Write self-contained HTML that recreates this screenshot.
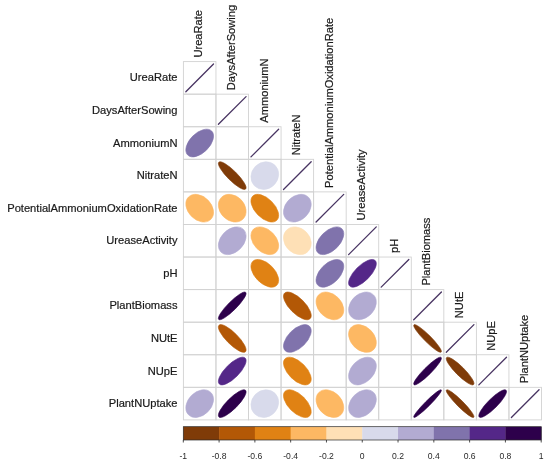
<!DOCTYPE html><html><head><meta charset="utf-8"><title>Correlation plot</title><style>html,body{margin:0;padding:0;background:#fff}svg{display:block}</style></head><body><svg width="550" height="467" viewBox="0 0 550 467" font-family="Liberation Sans, Arial, sans-serif">
<rect width="550" height="467" fill="#fff"/>
<g fill="none" stroke="#d2d2d2" stroke-width="0.9"><rect x="183.40" y="61.60" width="32.55" height="32.57"/><rect x="183.40" y="94.17" width="32.55" height="32.57"/><rect x="215.95" y="94.17" width="32.55" height="32.57"/><rect x="183.40" y="126.75" width="32.55" height="32.57"/><rect x="215.95" y="126.75" width="32.55" height="32.57"/><rect x="248.51" y="126.75" width="32.55" height="32.57"/><rect x="183.40" y="159.32" width="32.55" height="32.57"/><rect x="215.95" y="159.32" width="32.55" height="32.57"/><rect x="248.51" y="159.32" width="32.55" height="32.57"/><rect x="281.06" y="159.32" width="32.55" height="32.57"/><rect x="183.40" y="191.89" width="32.55" height="32.57"/><rect x="215.95" y="191.89" width="32.55" height="32.57"/><rect x="248.51" y="191.89" width="32.55" height="32.57"/><rect x="281.06" y="191.89" width="32.55" height="32.57"/><rect x="313.62" y="191.89" width="32.55" height="32.57"/><rect x="183.40" y="224.46" width="32.55" height="32.57"/><rect x="215.95" y="224.46" width="32.55" height="32.57"/><rect x="248.51" y="224.46" width="32.55" height="32.57"/><rect x="281.06" y="224.46" width="32.55" height="32.57"/><rect x="313.62" y="224.46" width="32.55" height="32.57"/><rect x="346.17" y="224.46" width="32.55" height="32.57"/><rect x="183.40" y="257.04" width="32.55" height="32.57"/><rect x="215.95" y="257.04" width="32.55" height="32.57"/><rect x="248.51" y="257.04" width="32.55" height="32.57"/><rect x="281.06" y="257.04" width="32.55" height="32.57"/><rect x="313.62" y="257.04" width="32.55" height="32.57"/><rect x="346.17" y="257.04" width="32.55" height="32.57"/><rect x="378.73" y="257.04" width="32.55" height="32.57"/><rect x="183.40" y="289.61" width="32.55" height="32.57"/><rect x="215.95" y="289.61" width="32.55" height="32.57"/><rect x="248.51" y="289.61" width="32.55" height="32.57"/><rect x="281.06" y="289.61" width="32.55" height="32.57"/><rect x="313.62" y="289.61" width="32.55" height="32.57"/><rect x="346.17" y="289.61" width="32.55" height="32.57"/><rect x="378.73" y="289.61" width="32.55" height="32.57"/><rect x="411.28" y="289.61" width="32.55" height="32.57"/><rect x="183.40" y="322.18" width="32.55" height="32.57"/><rect x="215.95" y="322.18" width="32.55" height="32.57"/><rect x="248.51" y="322.18" width="32.55" height="32.57"/><rect x="281.06" y="322.18" width="32.55" height="32.57"/><rect x="313.62" y="322.18" width="32.55" height="32.57"/><rect x="346.17" y="322.18" width="32.55" height="32.57"/><rect x="378.73" y="322.18" width="32.55" height="32.57"/><rect x="411.28" y="322.18" width="32.55" height="32.57"/><rect x="443.84" y="322.18" width="32.55" height="32.57"/><rect x="183.40" y="354.75" width="32.55" height="32.57"/><rect x="215.95" y="354.75" width="32.55" height="32.57"/><rect x="248.51" y="354.75" width="32.55" height="32.57"/><rect x="281.06" y="354.75" width="32.55" height="32.57"/><rect x="313.62" y="354.75" width="32.55" height="32.57"/><rect x="346.17" y="354.75" width="32.55" height="32.57"/><rect x="378.73" y="354.75" width="32.55" height="32.57"/><rect x="411.28" y="354.75" width="32.55" height="32.57"/><rect x="443.84" y="354.75" width="32.55" height="32.57"/><rect x="476.39" y="354.75" width="32.55" height="32.57"/><rect x="183.40" y="387.33" width="32.55" height="32.57"/><rect x="215.95" y="387.33" width="32.55" height="32.57"/><rect x="248.51" y="387.33" width="32.55" height="32.57"/><rect x="281.06" y="387.33" width="32.55" height="32.57"/><rect x="313.62" y="387.33" width="32.55" height="32.57"/><rect x="346.17" y="387.33" width="32.55" height="32.57"/><rect x="378.73" y="387.33" width="32.55" height="32.57"/><rect x="411.28" y="387.33" width="32.55" height="32.57"/><rect x="443.84" y="387.33" width="32.55" height="32.57"/><rect x="476.39" y="387.33" width="32.55" height="32.57"/><rect x="508.95" y="387.33" width="32.55" height="32.57"/></g>
<ellipse cx="199.68" cy="143.03" rx="16.95" ry="9.78" fill="#8073ac" stroke="#8073ac" stroke-width="0.6" transform="rotate(-45 199.68 143.03)"/>
<ellipse cx="232.23" cy="175.60" rx="4.79" ry="18.97" fill="#7f3b08" stroke="#7f3b08" stroke-width="0.6" transform="rotate(-45 232.23 175.60)"/>
<ellipse cx="264.79" cy="175.60" rx="14.51" ry="13.13" fill="#d8daeb" stroke="#d8daeb" stroke-width="0.6" transform="rotate(-45 264.79 175.60)"/>
<ellipse cx="199.68" cy="208.18" rx="11.58" ry="15.78" fill="#fdb863" stroke="#fdb863" stroke-width="0.6" transform="rotate(-45 199.68 208.18)"/>
<ellipse cx="232.23" cy="208.18" rx="12.22" ry="15.28" fill="#fdb863" stroke="#fdb863" stroke-width="0.6" transform="rotate(-45 232.23 208.18)"/>
<ellipse cx="264.79" cy="208.18" rx="9.59" ry="17.06" fill="#e08214" stroke="#e08214" stroke-width="0.6" transform="rotate(-45 264.79 208.18)"/>
<ellipse cx="297.34" cy="208.18" rx="15.59" ry="11.82" fill="#b2abd2" stroke="#b2abd2" stroke-width="0.6" transform="rotate(-45 297.34 208.18)"/>
<ellipse cx="232.23" cy="240.75" rx="15.96" ry="11.32" fill="#b2abd2" stroke="#b2abd2" stroke-width="0.6" transform="rotate(-45 232.23 240.75)"/>
<ellipse cx="264.79" cy="240.75" rx="11.07" ry="16.14" fill="#fdb863" stroke="#fdb863" stroke-width="0.6" transform="rotate(-45 264.79 240.75)"/>
<ellipse cx="297.34" cy="240.75" rx="12.45" ry="15.09" fill="#fee0b6" stroke="#fee0b6" stroke-width="0.6" transform="rotate(-45 297.34 240.75)"/>
<ellipse cx="329.90" cy="240.75" rx="16.95" ry="9.78" fill="#8073ac" stroke="#8073ac" stroke-width="0.6" transform="rotate(-45 329.90 240.75)"/>
<ellipse cx="264.79" cy="273.32" rx="9.78" ry="16.95" fill="#e08214" stroke="#e08214" stroke-width="0.6" transform="rotate(-45 264.79 273.32)"/>
<ellipse cx="329.90" cy="273.32" rx="16.95" ry="9.78" fill="#8073ac" stroke="#8073ac" stroke-width="0.6" transform="rotate(-45 329.90 273.32)"/>
<ellipse cx="362.45" cy="273.32" rx="18.04" ry="7.58" fill="#542788" stroke="#542788" stroke-width="0.6" transform="rotate(-45 362.45 273.32)"/>
<ellipse cx="232.23" cy="305.90" rx="19.10" ry="4.26" fill="#2d004b" stroke="#2d004b" stroke-width="0.6" transform="rotate(-45 232.23 305.90)"/>
<ellipse cx="297.34" cy="305.90" rx="7.58" ry="18.04" fill="#b35806" stroke="#b35806" stroke-width="0.6" transform="rotate(-45 297.34 305.90)"/>
<ellipse cx="329.90" cy="305.90" rx="11.58" ry="15.78" fill="#fdb863" stroke="#fdb863" stroke-width="0.6" transform="rotate(-45 329.90 305.90)"/>
<ellipse cx="362.45" cy="305.90" rx="15.59" ry="11.82" fill="#b2abd2" stroke="#b2abd2" stroke-width="0.6" transform="rotate(-45 362.45 305.90)"/>
<ellipse cx="232.23" cy="338.47" rx="5.70" ry="18.72" fill="#b35806" stroke="#b35806" stroke-width="0.6" transform="rotate(-45 232.23 338.47)"/>
<ellipse cx="297.34" cy="338.47" rx="17.23" ry="9.28" fill="#8073ac" stroke="#8073ac" stroke-width="0.6" transform="rotate(-45 297.34 338.47)"/>
<ellipse cx="362.45" cy="338.47" rx="11.58" ry="15.78" fill="#fdb863" stroke="#fdb863" stroke-width="0.6" transform="rotate(-45 362.45 338.47)"/>
<ellipse cx="427.56" cy="338.47" rx="3.39" ry="19.27" fill="#7f3b08" stroke="#7f3b08" stroke-width="0.6" transform="rotate(-45 427.56 338.47)"/>
<ellipse cx="232.23" cy="371.04" rx="18.30" ry="6.92" fill="#542788" stroke="#542788" stroke-width="0.6" transform="rotate(-45 232.23 371.04)"/>
<ellipse cx="297.34" cy="371.04" rx="8.97" ry="17.39" fill="#e08214" stroke="#e08214" stroke-width="0.6" transform="rotate(-45 297.34 371.04)"/>
<ellipse cx="362.45" cy="371.04" rx="16.14" ry="11.07" fill="#b2abd2" stroke="#b2abd2" stroke-width="0.6" transform="rotate(-45 362.45 371.04)"/>
<ellipse cx="427.56" cy="371.04" rx="19.22" ry="3.66" fill="#2d004b" stroke="#2d004b" stroke-width="0.6" transform="rotate(-45 427.56 371.04)"/>
<ellipse cx="460.11" cy="371.04" rx="4.38" ry="19.07" fill="#7f3b08" stroke="#7f3b08" stroke-width="0.6" transform="rotate(-45 460.11 371.04)"/>
<ellipse cx="199.68" cy="403.61" rx="15.78" ry="11.58" fill="#b2abd2" stroke="#b2abd2" stroke-width="0.6" transform="rotate(-45 199.68 403.61)"/>
<ellipse cx="232.23" cy="403.61" rx="18.82" ry="5.36" fill="#2d004b" stroke="#2d004b" stroke-width="0.6" transform="rotate(-45 232.23 403.61)"/>
<ellipse cx="264.79" cy="403.61" rx="14.51" ry="13.13" fill="#d8daeb" stroke="#d8daeb" stroke-width="0.6" transform="rotate(-45 264.79 403.61)"/>
<ellipse cx="297.34" cy="403.61" rx="8.97" ry="17.39" fill="#e08214" stroke="#e08214" stroke-width="0.6" transform="rotate(-45 297.34 403.61)"/>
<ellipse cx="329.90" cy="403.61" rx="11.74" ry="15.65" fill="#fdb863" stroke="#fdb863" stroke-width="0.6" transform="rotate(-45 329.90 403.61)"/>
<ellipse cx="362.45" cy="403.61" rx="15.78" ry="11.58" fill="#b2abd2" stroke="#b2abd2" stroke-width="0.6" transform="rotate(-45 362.45 403.61)"/>
<ellipse cx="427.56" cy="403.61" rx="19.39" ry="2.59" fill="#2d004b" stroke="#2d004b" stroke-width="0.6" transform="rotate(-45 427.56 403.61)"/>
<ellipse cx="460.11" cy="403.61" rx="3.24" ry="19.30" fill="#7f3b08" stroke="#7f3b08" stroke-width="0.6" transform="rotate(-45 460.11 403.61)"/>
<ellipse cx="492.67" cy="403.61" rx="18.97" ry="4.79" fill="#2d004b" stroke="#2d004b" stroke-width="0.6" transform="rotate(-45 492.67 403.61)"/>
<g stroke="#483462" stroke-width="1.3" stroke-linecap="round"><line x1="185.84" y1="91.72" x2="213.51" y2="64.05"/><line x1="218.40" y1="124.29" x2="246.07" y2="96.62"/><line x1="250.95" y1="156.87" x2="278.62" y2="129.20"/><line x1="283.51" y1="189.44" x2="311.18" y2="161.77"/><line x1="316.06" y1="222.01" x2="343.73" y2="194.34"/><line x1="348.61" y1="254.59" x2="376.29" y2="226.91"/><line x1="381.17" y1="287.16" x2="408.84" y2="259.49"/><line x1="413.72" y1="319.73" x2="441.39" y2="292.06"/><line x1="446.28" y1="352.30" x2="473.95" y2="324.63"/><line x1="478.83" y1="384.88" x2="506.50" y2="357.21"/><line x1="511.39" y1="417.45" x2="539.06" y2="389.78"/></g>
<text x="177.5" y="81.39" font-size="11.15" text-anchor="end" fill="#1a1a1a" stroke="#1a1a1a" stroke-width="0.2">UreaRate</text>
<text x="177.5" y="113.96" font-size="11.15" text-anchor="end" fill="#1a1a1a" stroke="#1a1a1a" stroke-width="0.2">DaysAfterSowing</text>
<text x="177.5" y="146.53" font-size="11.15" text-anchor="end" fill="#1a1a1a" stroke="#1a1a1a" stroke-width="0.2">AmmoniumN</text>
<text x="177.5" y="179.10" font-size="11.15" text-anchor="end" fill="#1a1a1a" stroke="#1a1a1a" stroke-width="0.2">NitrateN</text>
<text x="177.5" y="211.68" font-size="11.15" text-anchor="end" fill="#1a1a1a" stroke="#1a1a1a" stroke-width="0.2">PotentialAmmoniumOxidationRate</text>
<text x="177.5" y="244.25" font-size="11.15" text-anchor="end" fill="#1a1a1a" stroke="#1a1a1a" stroke-width="0.2">UreaseActivity</text>
<text x="177.5" y="276.82" font-size="11.15" text-anchor="end" fill="#1a1a1a" stroke="#1a1a1a" stroke-width="0.2">pH</text>
<text x="177.5" y="309.40" font-size="11.15" text-anchor="end" fill="#1a1a1a" stroke="#1a1a1a" stroke-width="0.2">PlantBiomass</text>
<text x="177.5" y="341.97" font-size="11.15" text-anchor="end" fill="#1a1a1a" stroke="#1a1a1a" stroke-width="0.2">NUtE</text>
<text x="177.5" y="374.54" font-size="11.15" text-anchor="end" fill="#1a1a1a" stroke="#1a1a1a" stroke-width="0.2">NUpE</text>
<text x="177.5" y="407.11" font-size="11.15" text-anchor="end" fill="#1a1a1a" stroke="#1a1a1a" stroke-width="0.2">PlantNUptake</text>
<text transform="translate(202.48 57.60) rotate(-90)" font-size="11.13" fill="#1a1a1a" stroke="#1a1a1a" stroke-width="0.2">UreaRate</text>
<text transform="translate(235.03 90.17) rotate(-90)" font-size="11.13" fill="#1a1a1a" stroke="#1a1a1a" stroke-width="0.2">DaysAfterSowing</text>
<text transform="translate(267.59 122.75) rotate(-90)" font-size="11.13" fill="#1a1a1a" stroke="#1a1a1a" stroke-width="0.2">AmmoniumN</text>
<text transform="translate(300.14 155.32) rotate(-90)" font-size="11.13" fill="#1a1a1a" stroke="#1a1a1a" stroke-width="0.2">NitrateN</text>
<text transform="translate(332.70 187.89) rotate(-90)" font-size="11.13" fill="#1a1a1a" stroke="#1a1a1a" stroke-width="0.2">PotentialAmmoniumOxidationRate</text>
<text transform="translate(365.25 220.46) rotate(-90)" font-size="11.13" fill="#1a1a1a" stroke="#1a1a1a" stroke-width="0.2">UreaseActivity</text>
<text transform="translate(397.80 253.04) rotate(-90)" font-size="11.13" fill="#1a1a1a" stroke="#1a1a1a" stroke-width="0.2">pH</text>
<text transform="translate(430.36 285.61) rotate(-90)" font-size="11.13" fill="#1a1a1a" stroke="#1a1a1a" stroke-width="0.2">PlantBiomass</text>
<text transform="translate(462.91 318.18) rotate(-90)" font-size="11.13" fill="#1a1a1a" stroke="#1a1a1a" stroke-width="0.2">NUtE</text>
<text transform="translate(495.47 350.75) rotate(-90)" font-size="11.13" fill="#1a1a1a" stroke="#1a1a1a" stroke-width="0.2">NUpE</text>
<text transform="translate(528.02 383.33) rotate(-90)" font-size="11.13" fill="#1a1a1a" stroke="#1a1a1a" stroke-width="0.2">PlantNUptake</text>
<rect x="183.30" y="426.7" width="36.09" height="13.30" fill="#7f3b08"/>
<rect x="219.09" y="426.7" width="36.09" height="13.30" fill="#b35806"/>
<rect x="254.88" y="426.7" width="36.09" height="13.30" fill="#e08214"/>
<rect x="290.67" y="426.7" width="36.09" height="13.30" fill="#fdb863"/>
<rect x="326.46" y="426.7" width="36.09" height="13.30" fill="#fee0b6"/>
<rect x="362.25" y="426.7" width="36.09" height="13.30" fill="#d8daeb"/>
<rect x="398.04" y="426.7" width="36.09" height="13.30" fill="#b2abd2"/>
<rect x="433.83" y="426.7" width="36.09" height="13.30" fill="#8073ac"/>
<rect x="469.62" y="426.7" width="36.09" height="13.30" fill="#542788"/>
<rect x="505.41" y="426.7" width="36.09" height="13.30" fill="#2d004b"/>
<rect x="183.3" y="426.7" width="357.90" height="13.30" fill="none" stroke="#2a2a2a" stroke-width="0.7"/>
<line x1="183.30" y1="440.0" x2="183.30" y2="442.5" stroke="#222" stroke-width="0.8"/>
<text x="183.30" y="459.1" font-size="8.6" text-anchor="middle" fill="#2a2a2a">-1</text>
<line x1="219.09" y1="440.0" x2="219.09" y2="442.5" stroke="#222" stroke-width="0.8"/>
<text x="219.09" y="459.1" font-size="8.6" text-anchor="middle" fill="#2a2a2a">-0.8</text>
<line x1="254.88" y1="440.0" x2="254.88" y2="442.5" stroke="#222" stroke-width="0.8"/>
<text x="254.88" y="459.1" font-size="8.6" text-anchor="middle" fill="#2a2a2a">-0.6</text>
<line x1="290.67" y1="440.0" x2="290.67" y2="442.5" stroke="#222" stroke-width="0.8"/>
<text x="290.67" y="459.1" font-size="8.6" text-anchor="middle" fill="#2a2a2a">-0.4</text>
<line x1="326.46" y1="440.0" x2="326.46" y2="442.5" stroke="#222" stroke-width="0.8"/>
<text x="326.46" y="459.1" font-size="8.6" text-anchor="middle" fill="#2a2a2a">-0.2</text>
<line x1="362.25" y1="440.0" x2="362.25" y2="442.5" stroke="#222" stroke-width="0.8"/>
<text x="362.25" y="459.1" font-size="8.6" text-anchor="middle" fill="#2a2a2a">0</text>
<line x1="398.04" y1="440.0" x2="398.04" y2="442.5" stroke="#222" stroke-width="0.8"/>
<text x="398.04" y="459.1" font-size="8.6" text-anchor="middle" fill="#2a2a2a">0.2</text>
<line x1="433.83" y1="440.0" x2="433.83" y2="442.5" stroke="#222" stroke-width="0.8"/>
<text x="433.83" y="459.1" font-size="8.6" text-anchor="middle" fill="#2a2a2a">0.4</text>
<line x1="469.62" y1="440.0" x2="469.62" y2="442.5" stroke="#222" stroke-width="0.8"/>
<text x="469.62" y="459.1" font-size="8.6" text-anchor="middle" fill="#2a2a2a">0.6</text>
<line x1="505.41" y1="440.0" x2="505.41" y2="442.5" stroke="#222" stroke-width="0.8"/>
<text x="505.41" y="459.1" font-size="8.6" text-anchor="middle" fill="#2a2a2a">0.8</text>
<line x1="541.20" y1="440.0" x2="541.20" y2="442.5" stroke="#222" stroke-width="0.8"/>
<text x="541.20" y="459.1" font-size="8.6" text-anchor="middle" fill="#2a2a2a">1</text>
</svg></body></html>
